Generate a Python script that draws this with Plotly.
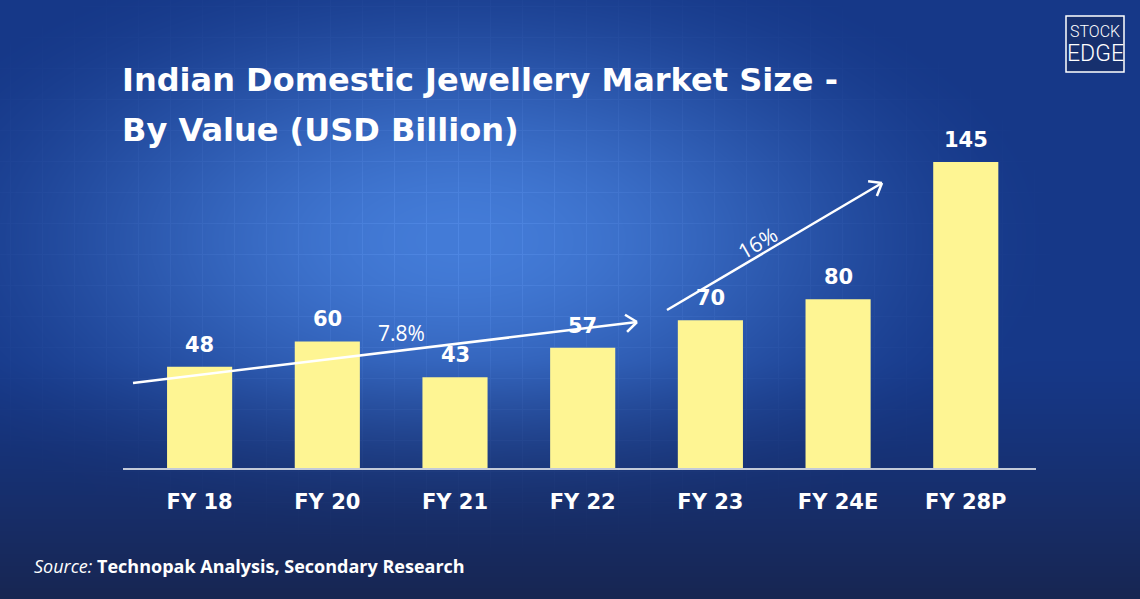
import base64, math, struct, zlib
import numpy as np
import plotly.graph_objects as go

W, H = 1140, 599

categories = ["FY 18", "FY 20", "FY 21", "FY 22", "FY 23", "FY 24E", "FY 28P"]
values = [48, 60, 43, 57, 70, 80, 145]
cagr_labels = ["7.8%", "16%"]
title_lines = ["Indian Domestic Jewellery Market Size -", "By Value (USD Billion)"]
source_label = "Source:"
source_text = "Technopak Analysis, Secondary Research"


# ---------- background image (radial blue gradient + faint grid) ----------
def make_bg():
    yy, xx = np.mgrid[0:H, 0:W].astype(float)
    cx, cy = 460, 240
    d = np.sqrt(((xx - cx) / 620) ** 2 + ((yy - cy) / 320) ** 2)
    t = np.clip(d, 0, 1)
    t = t * t * (3 - 2 * t)
    c_in = np.array([68, 124, 216], float)
    c_out = np.array([22, 56, 136], float)
    img = c_in[None, None, :] * (1 - t[..., None]) + c_out[None, None, :] * t[..., None]
    b = np.clip((yy - 360) / 239, 0, 1) ** 1.2
    c_bot = np.array([24, 38, 82], float)
    img = img * (1 - b[..., None]) + c_bot[None, None, :] * b[..., None]
    g = ((xx.astype(int) % 32) == 10) | ((yy.astype(int) % 31) == 6)
    gi = np.clip(1 - d, 0, 1) * 11
    img = img + (g * gi)[..., None]
    img = np.clip(img, 0, 255).astype(np.uint8)
    raw = b"".join(b"\x00" + img[r].tobytes() for r in range(H))

    def chunk(tag, data):
        c = struct.pack(">I", len(data)) + tag + data
        return c + struct.pack(">I", zlib.crc32(tag + data) & 0xFFFFFFFF)

    png = b"\x89PNG\r\n\x1a\n" + chunk(b"IHDR", struct.pack(">IIBBBBB", W, H, 8, 2, 0, 0, 0)) \
        + chunk(b"IDAT", zlib.compress(raw, 9)) + chunk(b"IEND", b"")
    return "data:image/png;base64," + base64.b64encode(png).decode()


def px(x):
    return x / W


def py(y):
    return 1 - y / H


BOLD = "DejaVu Sans"

fig = go.Figure()
fig.add_trace(go.Bar(
    x=categories, y=values, width=0.51,
    marker=dict(color="#fef593", line=dict(width=0)),
    hoverinfo="skip",
))

annotations = []
for c, v in zip(categories, values):
    annotations.append(dict(x=c, y=v, xref="x", yref="y", text=f"<b>{v}</b>", showarrow=False,
                            yanchor="bottom", yshift=8,
                            font=dict(family=BOLD, size=21, color="white")))

shapes = []


def arrow(x0, y0, x1, y1):
    shapes.append(dict(type="line", xref="paper", yref="paper",
                       x0=px(x0), y0=py(y0), x1=px(x1), y1=py(y1),
                       line=dict(color="white", width=2.5)))
    ang = math.atan2(y1 - y0, x1 - x0)
    L = 14
    for s in (-1, 1):
        a = ang + math.pi + s * math.radians(38)
        shapes.append(dict(type="line", xref="paper", yref="paper",
                           x0=px(x1), y0=py(y1), x1=px(x1 + L * math.cos(a)), y1=py(y1 + L * math.sin(a)),
                           line=dict(color="white", width=2.5)))


arrow(133, 383, 637, 322)
arrow(667, 310, 882, 183)

annotations.append(dict(x=px(401), y=py(333), xref="paper", yref="paper", text=cagr_labels[0],
                        showarrow=False, font=dict(family="Open Sans", size=21, color="white")))
annotations.append(dict(x=px(757), y=py(243), xref="paper", yref="paper", text=cagr_labels[1],
                        showarrow=False, textangle=-30,
                        font=dict(family="Open Sans", size=21, color="white")))

# title (two lines, 50px apart)
for i, line in enumerate(title_lines):
    annotations.append(dict(x=px(120), y=py(80 + 50 * i), xref="paper", yref="paper",
                            text=f"<b>{line}</b>", xanchor="left", yanchor="middle", showarrow=False,
                            font=dict(family=BOLD, size=32, color="white")))

# source
annotations.append(dict(x=px(32), y=py(566), xref="paper", yref="paper",
                        text=f"<i>{source_label}</i> <b>{source_text}</b>",
                        xanchor="left", yanchor="middle", showarrow=False,
                        font=dict(family="Open Sans", size=18, color="white")))

# logo
shapes.append(dict(type="rect", xref="paper", yref="paper", x0=px(1066), x1=px(1124), y0=py(72), y1=py(16),
                   fillcolor="#17306e", line=dict(color="white", width=1.5)))
annotations.append(dict(x=px(1095), y=py(31), xref="paper", yref="paper", text="STOCK", showarrow=False,
                        xanchor="center", yanchor="middle",
                        font=dict(family="Roboto", size=16, color="white", weight=300)))
annotations.append(dict(x=px(1095), y=py(54), xref="paper", yref="paper", text="EDGE", showarrow=False,
                        xanchor="center", yanchor="middle",
                        font=dict(family="Roboto", size=23, color="white", weight=300)))

fig.update_layout(
    width=W, height=H, margin=dict(l=0, r=0, t=0, b=0),
    paper_bgcolor="#163887", plot_bgcolor="rgba(0,0,0,0)",
    showlegend=False, shapes=shapes, annotations=annotations,
    images=[dict(source=make_bg(), xref="paper", yref="paper", x=0, y=1, sizex=1, sizey=1,
                 sizing="stretch", xanchor="left", yanchor="top", layer="below")],
    xaxis=dict(domain=[px(123), px(1036)], range=[-0.6, 6.55], showgrid=False, zeroline=False,
               showline=True, linecolor="#c3cad8", linewidth=2, ticks="",
               tickfont=dict(family=BOLD, size=21, color="white", weight="bold"),
               ticklabelstandoff=14, fixedrange=True),
    yaxis=dict(domain=[py(468), py(100)], range=[0, 174.4], visible=False, fixedrange=True),
)

fig.write_html("out.html")
